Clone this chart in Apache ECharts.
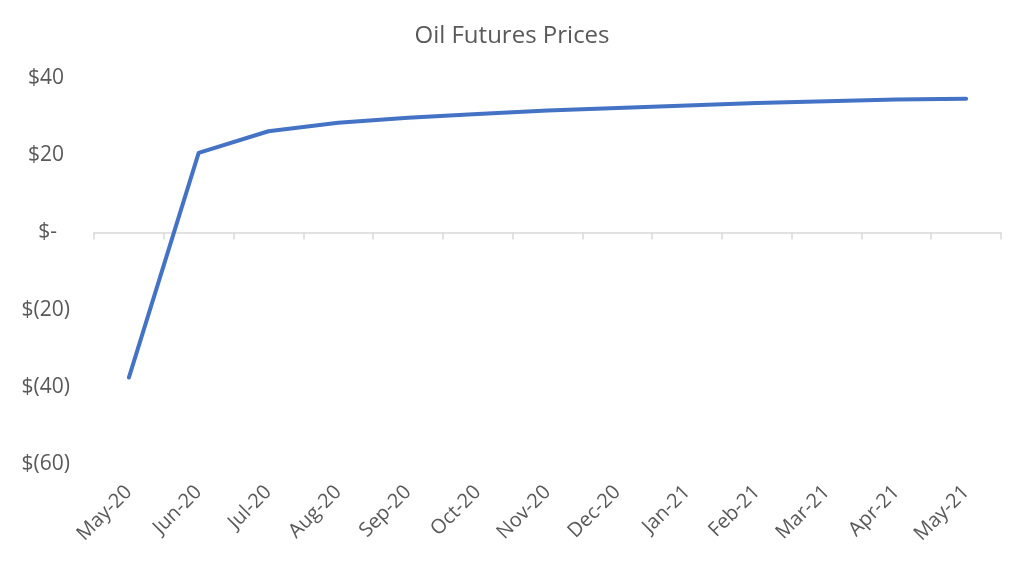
<!DOCTYPE html>
<html>
<head>
<meta charset="utf-8">
<script src="https://cdn.jsdelivr.net/npm/echarts@6/dist/echarts.min.js"></script>
<style>html,body{margin:0;padding:0;background:#fff}#c{width:1024px;height:567px}</style>
</head>
<body>
<div id="c"></div>
<script>
const categories = ['May-20','Jun-20','Jul-20','Aug-20','Sep-20','Oct-20','Nov-20','Dec-20','Jan-21','Feb-21','Mar-21','Apr-21','May-21'];
const prices = [-37.6, 20.6, 26.2, 28.4, 29.7, 30.7, 31.6, 32.2, 32.9, 33.5, 34.0, 34.4, 34.6];
const yTicks = { min: -60, max: 40, interval: 20 };
const title = 'Oil Futures Prices';

const FONT = '"Open Sans", "Noto Sans", sans-serif';
const chart = echarts.init(document.getElementById('c'), null, { renderer: 'canvas' });
function fmt(v) {
  if (v === 0) return '{z|$-}';
  if (v < 0) return '{n|$(' + Math.abs(v) + ')}';
  return '{p|$' + v + '}';
}
chart.setOption({
  animation: false,
  backgroundColor: '#fff',
  title: { text: title, left: 'center', top: 19, textStyle: { fontFamily: FONT, fontSize: 24, fontWeight: 'normal', color: '#595959' } },
  grid: { left: 94, right: 23, top: 78, bottom: 103, containLabel: false },
  xAxis: [
    { type: 'category', data: categories, boundaryGap: true,
      axisLine: { onZero: true, lineStyle: { color: '#d9d9d9', width: 1.5 } },
      axisTick: { show: true, length: 7, lineStyle: { color: '#d9d9d9', width: 1.5 } },
      axisLabel: { show: false } },
    { type: 'category', data: categories, boundaryGap: true, position: 'bottom',
      axisLine: { show: false, onZero: false }, axisTick: { show: false },
      axisLabel: { rotate: 45, margin: 25, color: '#595959', fontSize: 20, fontFamily: FONT, interval: 0 } }
  ],
  yAxis: {
    type: 'value', min: yTicks.min, max: yTicks.max, interval: yTicks.interval,
    splitLine: { show: false }, axisLine: { show: false }, axisTick: { show: false },
    axisLabel: { margin: 24, formatter: fmt,
      rich: {
        p: { color: '#595959', fontSize: 21, fontFamily: FONT, padding: [0, 6, 0, 0] },
        n: { color: '#595959', fontSize: 21, fontFamily: FONT },
        z: { color: '#595959', fontSize: 21, fontFamily: FONT, padding: [0, 13, 0, 0] }
      } }
  },
  series: [{ type: 'line', data: prices, xAxisIndex: 0, showSymbol: false, symbol: 'none',
    lineStyle: { color: '#4472C4', width: 4, cap: 'round', join: 'round' } }]
});
</script>
</body>
</html>
